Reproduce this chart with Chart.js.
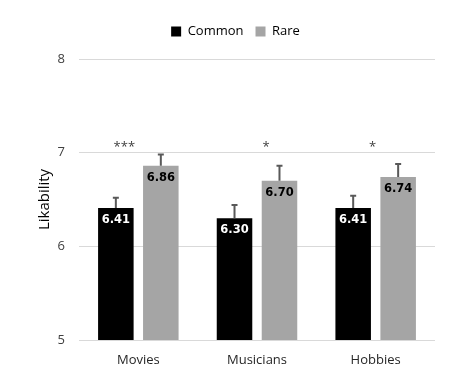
<!DOCTYPE html>
<html>
<head>
<meta charset="utf-8">
<script src="https://cdn.jsdelivr.net/npm/chart.js@4"></script>
<style>
html,body{margin:0;padding:0;background:#fff;}
#wrap{width:474px;height:390px;}
</style>
</head>
<body>
<div id="wrap"><canvas id="c" width="474" height="390"></canvas></div>
<script>
const categories = ["Movies", "Musicians", "Hobbies"];
const commonValues = [6.41, 6.30, 6.41];
const rareValues = [6.86, 6.70, 6.74];
const commonErrors = [0.11, 0.14, 0.13];
const rareErrors = [0.12, 0.16, 0.14];
const significance = ["***", "*", "*"];
const yTicks = [5, 6, 7, 8];

const FONT = "'Open Sans', 'DejaVu Sans', sans-serif";

const legendGap = {
  id: 'legendGap',
  afterInit(chart) {
    const lg = chart.legend;
    if (!lg) return;
    const orig = lg.fit;
    lg.fit = function () { orig.call(this); this.height += 11; };
  }
};

const overlayPlugin = {
  id: 'overlay',
  afterDatasetsDraw(chart) {
    const ctx = chart.ctx;
    const yScale = chart.scales.y;
    const xScale = chart.scales.x;
    const errs = [commonErrors, rareErrors];
    chart.data.datasets.forEach((ds, di) => {
      const meta = chart.getDatasetMeta(di);
      meta.data.forEach((bar, i) => {
        const v = ds.data[i];
        const top = yScale.getPixelForValue(v + errs[di][i]);
        ctx.save();
        ctx.strokeStyle = '#595959';
        ctx.lineWidth = 2;
        ctx.beginPath();
        ctx.moveTo(bar.x, bar.y);
        ctx.lineTo(bar.x, top);
        ctx.moveTo(bar.x - 3, top);
        ctx.lineTo(bar.x + 3, top);
        ctx.stroke();
        ctx.fillStyle = di === 0 ? '#ffffff' : '#000000';
        ctx.font = "bold 11.5px 'DejaVu Sans', sans-serif";
        ctx.textAlign = 'center';
        ctx.textBaseline = 'middle';
        ctx.fillText(v.toFixed(2), bar.x, bar.y + 12);
        ctx.restore();
      });
    });
    const sigOffsets = [-14, 9, -3];
    ctx.save();
    ctx.fillStyle = '#404040';
    ctx.font = "13px " + FONT;
    ctx.textAlign = 'center';
    ctx.textBaseline = 'middle';
    significance.forEach((s, i) => {
      const x = xScale.getPixelForValue(i) + sigOffsets[i];
      const y = yScale.getPixelForValue(7) - 5;
      ctx.fillText(s, x, y);
    });
    ctx.restore();
  }
};

new Chart(document.getElementById('c'), {
  type: 'bar',
  data: {
    labels: categories,
    datasets: [
      { label: 'Common', data: commonValues, backgroundColor: '#000000', borderWidth: 0 },
      { label: 'Rare', data: rareValues, backgroundColor: '#a5a5a5', borderWidth: 0 }
    ]
  },
  options: {
    responsive: false,
    animation: false,
    devicePixelRatio: 1,
    layout: { padding: { top: 13, right: 39, bottom: 0, left: 36 } },
    datasets: { bar: { categoryPercentage: 0.758, barPercentage: 0.79 } },
    plugins: {
      legend: {
        position: 'top',
        labels: {
          boxWidth: 10, boxHeight: 10, padding: 12,
          color: '#000', font: { family: FONT, size: 13 }
        }
      },
      tooltip: { enabled: false }
    },
    scales: {
      x: {
        grid: { display: false },
        border: { display: false },
        ticks: { color: '#262626', font: { family: FONT, size: 13 }, padding: 4 },
        afterFit(scale) { scale.height = 50; }
      },
      y: {
        min: 5, max: 8,
        afterBuildTicks(scale) { scale.ticks = yTicks.map(v => ({ value: v })); },
        grid: { color: '#d9d9d9', drawTicks: false, lineWidth: 1 },
        border: { display: false },
        ticks: { color: '#404040', font: { family: FONT, size: 13 }, padding: 14 },
        title: { display: true, text: 'Likability', color: '#000', font: { family: FONT, size: 15 }, padding: 0 },
        afterFit(scale) { scale.width = 43; }
      }
    }
  },
  plugins: [legendGap, overlayPlugin]
});
</script>
</body>
</html>
